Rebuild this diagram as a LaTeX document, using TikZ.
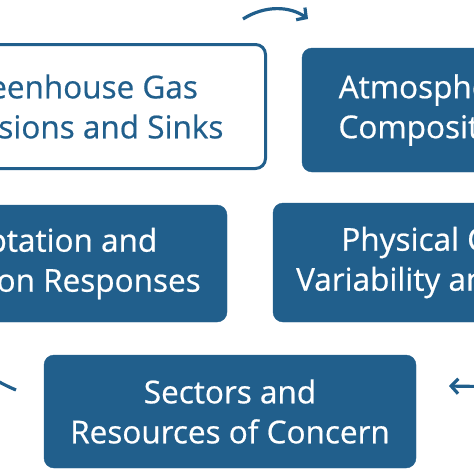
\documentclass[tikz,border=0pt]{standalone}
\usepackage{fontspec}
\setmainfont{Open Sans}
\newfontfamily\boxfont{Open Sans}[FakeBold=0.6]
\usetikzlibrary{arrows.meta}
\definecolor{climblue}{RGB}{33,95,140}
\tikzstyle{box} = [rectangle, rounded corners=10pt, fill=climblue, draw=climblue, text=white, align=center, font=\boxfont\fontsize{31.5}{40}\selectfont]
\tikzstyle{openbox} = [box, fill=white, text=climblue, line width=3pt]
\tikzstyle{arrow} = [-{Straight Barb[length=7pt,width=15pt]}, line width=3.2pt, climblue]

\begin{document}
\begin{tikzpicture}[x=1pt,y=-1pt]
        \useasboundingbox (0,0) rectangle (474,474);
        \clip (0,0) rectangle (474,474);
        \node[openbox, minimum width=379pt, minimum height=124pt] at (76,106.5) (ghg) {Greenhouse Gas\\Emissions and Sinks};
        \node[box, minimum width=260pt, minimum height=124pt] at (432,110) (atmos) {Atmospheric\\Composition};
        \node[box, minimum width=366pt, minimum height=117pt] at (44,263.5) (adapt) {Adaptation and\\Mitigation Responses};
        \node[box, minimum width=374pt, minimum height=119pt] at (460,262.5) (phys) {Physical Climate\\Variability and Change};
        \node[box, minimum width=372pt, minimum height=113pt] at (230,411.5) (sectors) {Sectors and\\Resources of Concern};

        \coordinate (topstart) at (243,19);
        \coordinate (topend) at (308,19);
        \coordinate (rightstart) at (530,365);
        \coordinate (rightend) at (449,386);
        \coordinate (leftstart) at (16,390);
        \coordinate (leftend) at (-40,340);

        \draw[arrow] (topstart) .. controls (265,5) and (290,6) .. (topend);
        \draw[arrow] (rightstart) .. controls (500,387) .. (rightend);
        \draw[arrow] (leftstart) .. controls (-10,379) and (-30,365) .. (leftend);
\end{tikzpicture}
\end{document}
